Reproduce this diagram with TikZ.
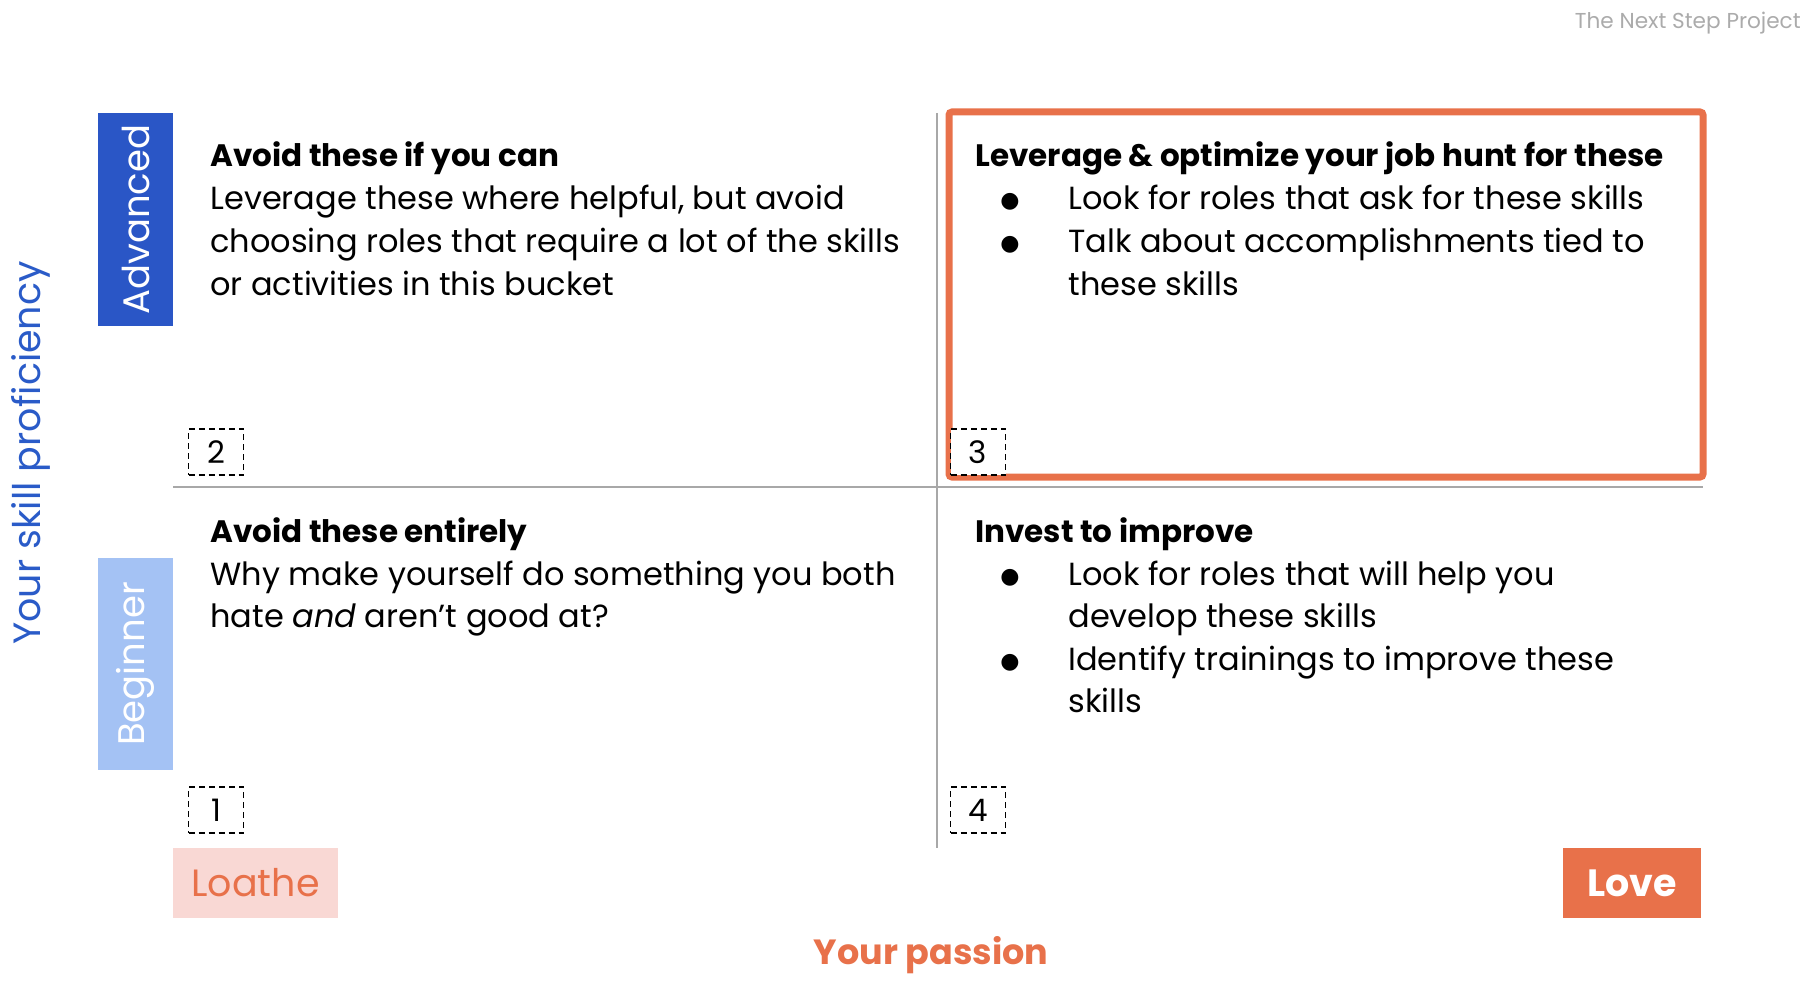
\documentclass[tikz,border=0pt]{standalone}
\usepackage{fontspec}
\setmainfont{Poppins}
\newfontfamily\dejavu{DejaVu Sans}
\definecolor{orng}{HTML}{E8714A}
\definecolor{pinkbg}{HTML}{F9D8D4}
\definecolor{advblue}{HTML}{2A56C6}
\definecolor{begblue}{HTML}{A4C2F4}
\definecolor{axisblue}{HTML}{2A5BC8}
\definecolor{gridgray}{HTML}{A8A8A8}
\definecolor{hdrgray}{HTML}{ABABAB}
\tikzset{
  body/.style={font=\fontsize{16}{18}\selectfont, anchor=base west, inner sep=0pt},
  head/.style={font=\fontsize{15.5}{18}\selectfont\bfseries, anchor=base west, inner sep=0pt},
  bul/.style={font=\fontsize{11}{12}\selectfont\dejavu, anchor=base, inner sep=0pt},
  numbox/.style={draw=black, dashed, line width=0.8pt, dash pattern=on 3pt off 2pt, minimum width=27.5pt, minimum height=23pt, inner sep=0pt, font=\fontsize{15.5}{18}\selectfont},
  levelbox/.style={minimum height=37.5pt, inner sep=0pt, text=white, font=\fontsize{18.5}{20}\selectfont},
  gridline/.style={draw=gridgray, line width=1pt},
}
\begin{document}
\begin{tikzpicture}[x=0.5pt,y=-0.5pt]
\useasboundingbox (0,0) rectangle (1810,990);
% header
\node[anchor=east, inner sep=0pt, text=hdrgray, font=\fontsize{10.8}{13}\selectfont] (hdr) at (1801,23) {The Next Step Project};
% axis title
\node[rotate=90, inner sep=0pt, text=axisblue, font=\fontsize{19}{22}\selectfont] (yax) at (31,453) {Your skill proficiency};
% level boxes
\node[levelbox, fill=advblue, minimum width=106.5pt, rotate=90] (adv) at (135.5,219.5) {Advanced};
\node[levelbox, fill=begblue, minimum width=106pt, rotate=90] (beg) at (135.5,664) {Beginner};
% grid
\coordinate (vtop) at (937,113);
\coordinate (vbot) at (937,848);
\coordinate (hl) at (173,487);
\coordinate (hr) at (1703,487);
\draw[gridline] (vtop) -- (vbot);
\draw[gridline] (hl) -- (hr);
% highlight box
\node[draw=orng, line width=3.5pt, rounded corners=1.5pt, minimum width=377pt, minimum height=182.5pt, inner sep=0pt] (hl3) at (1326,294.5) {};
% quadrant 2
\node[head] (q2h) at (210,167) {Avoid these if you can};
\node[body] (q2a) at (210,209) {Leverage these where helpful, but avoid};
\node[body] (q2b) at (210,252) {choosing roles that require a lot of the skills};
\node[body] (q2c) at (210,295) {or activities in this bucket};
% quadrant 3
\node[head] (q3h) at (975,167) {Leverage \& optimize your job hunt for these};
\node[bul] (q3b1) at (1010,207) {●};
\node[body] (q3a) at (1068,209) {Look for roles that ask for these skills};
\node[bul] (q3b2) at (1010,250) {●};
\node[body] (q3b) at (1068,252) {Talk about accomplishments tied to};
\node[body] (q3c) at (1068,295) {these skills};
% quadrant 1
\node[head] (q1h) at (210,542) {Avoid these entirely};
\node[body] (q1a) at (210,585) {Why make yourself do something you both};
\node[body] (q1b) at (210,627) {hate \textit{and} aren’t good at?};
% quadrant 4
\node[head] (q4h) at (975,542) {Invest to improve};
\node[bul] (q4b1) at (1010,583) {●};
\node[body] (q4a) at (1068,585) {Look for roles that will help you};
\node[body] (q4b) at (1068,627) {develop these skills};
\node[bul] (q4b2) at (1010,668) {●};
\node[body] (q4c) at (1068,670) {Identify trainings to improve these};
\node[body] (q4d) at (1068,712) {skills};
% number boxes
\node[numbox, fill=white] (n2) at (216,452) {2};
\node[numbox, fill=white] (n3) at (978,452) {3};
\node[numbox] (n1) at (216,810) {1};
\node[numbox] (n4) at (978,810) {4};
% x axis
\node[fill=pinkbg, text=orng, minimum width=82.5pt, minimum height=35pt, inner sep=0pt, font=\fontsize{19}{21}\selectfont] (loathe) at (255.5,883) {Loathe};
\node[fill=orng, text=white, minimum width=69pt, minimum height=35pt, inner sep=0pt, font=\fontsize{19}{21}\selectfont\bfseries] (love) at (1632,883) {Love};
\node[text=orng, inner sep=0pt, font=\fontsize{17.5}{21}\selectfont\bfseries] (xax) at (931,955) {Your passion};
\end{tikzpicture}
\end{document}
